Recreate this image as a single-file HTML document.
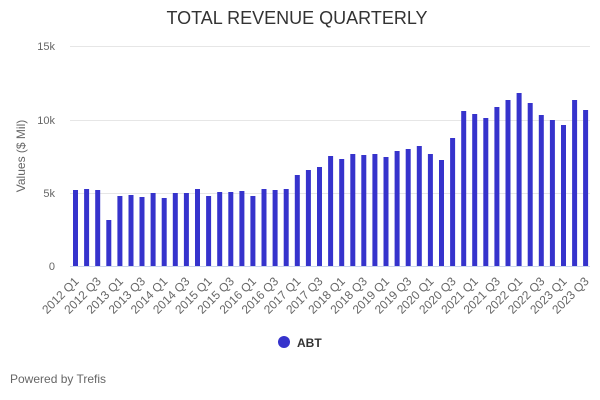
<!DOCTYPE html>
<html><head><style>
body{margin:0;background:#fff;}
svg{display:block;font-family:"Liberation Sans",sans-serif;}
</style></head><body>
<svg width="600" height="400" viewBox="0 0 600 400">
<text x="297" y="24" text-anchor="middle" font-size="18" fill="#333">TOTAL REVENUE QUARTERLY</text>
<g stroke="#e6e6e6" stroke-width="1">
<line x1="70" x2="590" y1="46.5" y2="46.5"/>
<line x1="70" x2="590" y1="120.5" y2="120.5"/>
<line x1="70" x2="590" y1="193.5" y2="193.5"/>
</g>
<line x1="70" x2="590" y1="266.5" y2="266.5" stroke="#ccd6eb"/>
<g font-size="11" fill="#666" text-anchor="end">
<text x="55" y="50">15k</text>
<text x="55" y="124">10k</text>
<text x="55" y="197">5k</text>
<text x="55" y="270">0</text>
</g>
<text transform="translate(25,156) rotate(-90)" text-anchor="middle" font-size="12" fill="#666">Values ($ Mil)</text>
<g fill="#3633cc">
<rect x="73.0" y="190" width="5" height="76"/>
<rect x="84.1" y="189" width="5" height="77"/>
<rect x="95.2" y="190" width="5" height="76"/>
<rect x="106.3" y="220" width="5" height="46"/>
<rect x="117.4" y="196" width="5" height="70"/>
<rect x="128.5" y="195" width="5" height="71"/>
<rect x="139.5" y="197" width="5" height="69"/>
<rect x="150.6" y="193" width="5" height="73"/>
<rect x="161.7" y="198" width="5" height="68"/>
<rect x="172.8" y="193" width="5" height="73"/>
<rect x="183.9" y="193" width="5" height="73"/>
<rect x="195.0" y="189" width="5" height="77"/>
<rect x="206.1" y="196" width="5" height="70"/>
<rect x="217.2" y="192" width="5" height="74"/>
<rect x="228.3" y="192" width="5" height="74"/>
<rect x="239.4" y="191" width="5" height="75"/>
<rect x="250.4" y="196" width="5" height="70"/>
<rect x="261.5" y="189" width="5" height="77"/>
<rect x="272.6" y="190" width="5" height="76"/>
<rect x="283.7" y="189" width="5" height="77"/>
<rect x="294.8" y="175" width="5" height="91"/>
<rect x="305.9" y="170" width="5" height="96"/>
<rect x="317.0" y="167" width="5" height="99"/>
<rect x="328.1" y="156" width="5" height="110"/>
<rect x="339.2" y="159" width="5" height="107"/>
<rect x="350.3" y="154" width="5" height="112"/>
<rect x="361.3" y="155" width="5" height="111"/>
<rect x="372.4" y="154" width="5" height="112"/>
<rect x="383.5" y="157" width="5" height="109"/>
<rect x="394.6" y="151" width="5" height="115"/>
<rect x="405.7" y="149" width="5" height="117"/>
<rect x="416.8" y="146" width="5" height="120"/>
<rect x="427.9" y="154" width="5" height="112"/>
<rect x="439.0" y="160" width="5" height="106"/>
<rect x="450.1" y="138" width="5" height="128"/>
<rect x="461.2" y="111" width="5" height="155"/>
<rect x="472.2" y="114" width="5" height="152"/>
<rect x="483.3" y="118" width="5" height="148"/>
<rect x="494.4" y="107" width="5" height="159"/>
<rect x="505.5" y="100" width="5" height="166"/>
<rect x="516.6" y="93" width="5" height="173"/>
<rect x="527.7" y="103" width="5" height="163"/>
<rect x="538.8" y="115" width="5" height="151"/>
<rect x="549.9" y="120" width="5" height="146"/>
<rect x="561.0" y="125" width="5" height="141"/>
<rect x="572.1" y="100" width="5" height="166"/>
<rect x="583.1" y="110" width="5" height="156"/>
</g>
<g font-size="12" fill="#666" text-anchor="end">
<text transform="translate(79.5,282) rotate(-45)">2012 Q1</text>
<text transform="translate(101.7,282) rotate(-45)">2012 Q3</text>
<text transform="translate(123.9,282) rotate(-45)">2013 Q1</text>
<text transform="translate(146.0,282) rotate(-45)">2013 Q3</text>
<text transform="translate(168.2,282) rotate(-45)">2014 Q1</text>
<text transform="translate(190.4,282) rotate(-45)">2014 Q3</text>
<text transform="translate(212.6,282) rotate(-45)">2015 Q1</text>
<text transform="translate(234.8,282) rotate(-45)">2015 Q3</text>
<text transform="translate(256.9,282) rotate(-45)">2016 Q1</text>
<text transform="translate(279.1,282) rotate(-45)">2016 Q3</text>
<text transform="translate(301.3,282) rotate(-45)">2017 Q1</text>
<text transform="translate(323.5,282) rotate(-45)">2017 Q3</text>
<text transform="translate(345.7,282) rotate(-45)">2018 Q1</text>
<text transform="translate(367.8,282) rotate(-45)">2018 Q3</text>
<text transform="translate(390.0,282) rotate(-45)">2019 Q1</text>
<text transform="translate(412.2,282) rotate(-45)">2019 Q3</text>
<text transform="translate(434.4,282) rotate(-45)">2020 Q1</text>
<text transform="translate(456.6,282) rotate(-45)">2020 Q3</text>
<text transform="translate(478.7,282) rotate(-45)">2021 Q1</text>
<text transform="translate(500.9,282) rotate(-45)">2021 Q3</text>
<text transform="translate(523.1,282) rotate(-45)">2022 Q1</text>
<text transform="translate(545.3,282) rotate(-45)">2022 Q3</text>
<text transform="translate(567.5,282) rotate(-45)">2023 Q1</text>
<text transform="translate(589.6,282) rotate(-45)">2023 Q3</text>
</g>
<circle cx="284" cy="342" r="6" fill="#3633cc"/>
<text x="297" y="347" font-size="12" font-weight="bold" fill="#333">ABT</text>
<text x="10" y="383" font-size="12" fill="#666">Powered by Trefis</text>
</svg>
</body></html>
